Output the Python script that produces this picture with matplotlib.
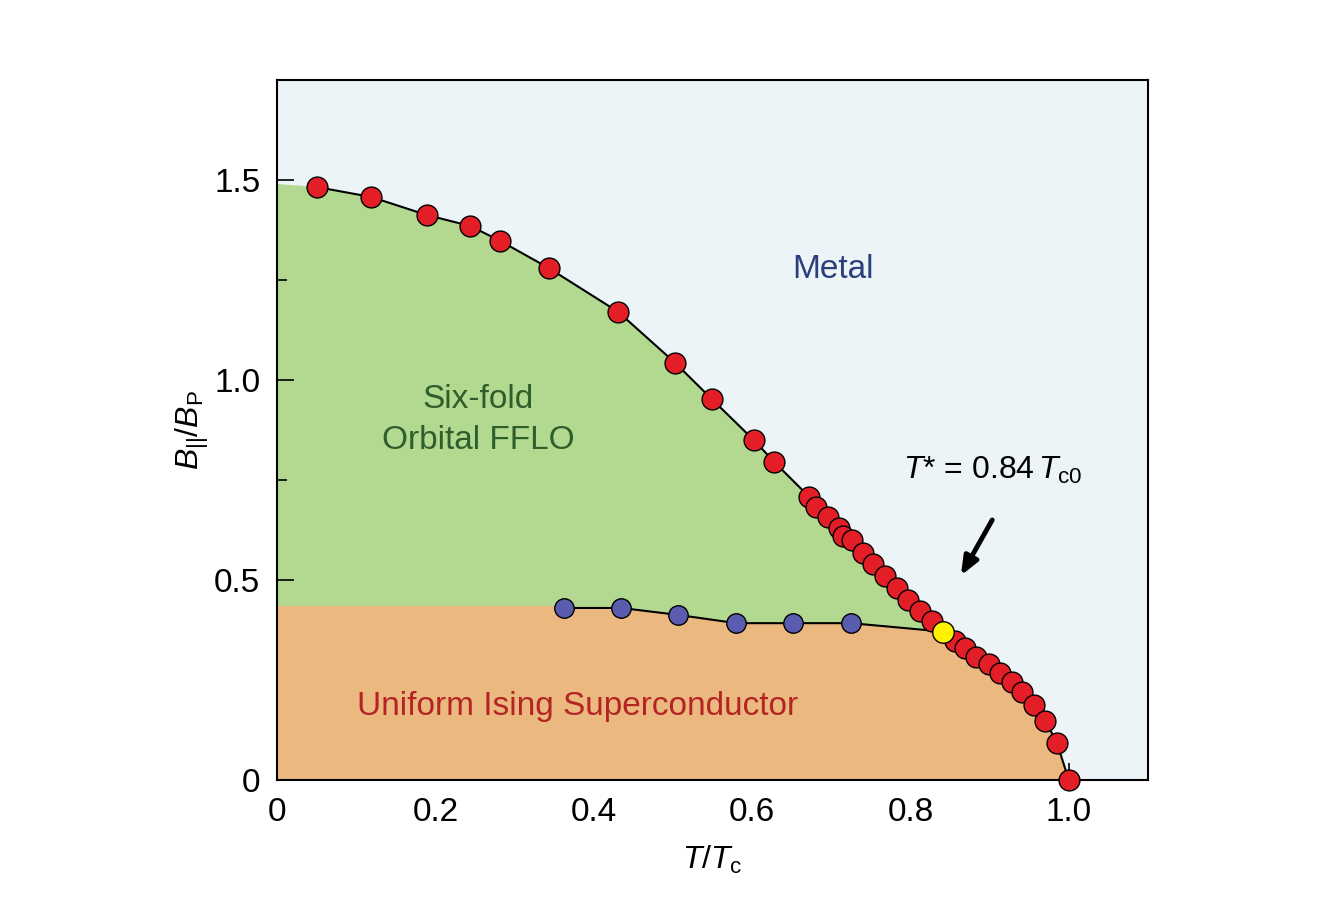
import numpy as np
import matplotlib
matplotlib.use('Agg')
import matplotlib.pyplot as plt
from matplotlib.ticker import MultipleLocator

plt.rcParams['font.family'] = ['Liberation Sans', 'DejaVu Sans']
plt.rcParams['mathtext.fontset'] = 'custom'
plt.rcParams['mathtext.rm'] = 'Liberation Sans'
plt.rcParams['mathtext.it'] = 'Liberation Sans:italic'

# upper critical field (red)
red_x = [0.05, 0.119, 0.189, 0.244, 0.282, 0.343, 0.431, 0.503, 0.549, 0.602, 0.628,
         0.672, 0.681, 0.696, 0.710, 0.715, 0.726, 0.740, 0.753, 0.768, 0.783, 0.797,
         0.812, 0.827, 0.856, 0.8695, 0.883, 0.899, 0.913, 0.928, 0.9415, 0.956,
         0.9705, 0.985, 1.0]
red_y = [1.4825, 1.4575, 1.4125, 1.385, 1.3475, 1.28, 1.17, 1.0425, 0.9525, 0.85, 0.795,
         0.708, 0.683, 0.657, 0.629, 0.61, 0.60, 0.568, 0.54, 0.511, 0.479, 0.45,
         0.423, 0.398, 0.348, 0.329, 0.308, 0.29, 0.267, 0.246, 0.221, 0.1875,
         0.148, 0.093, 0.0]

# FFLO transition (blue)
blue_x = [0.362, 0.435, 0.507, 0.58, 0.652, 0.725]
blue_y = [0.43, 0.43, 0.4125, 0.392, 0.392, 0.392]
blue_err = [0.013, 0.013, 0.013, 0.013, 0.013, 0.013]

# tricritical point
tstar_x, tstar_y = 0.8405, 0.371

c_bg = '#ECF4F7'
c_green = '#B3D88F'
c_orange = '#EBB980'

fig = plt.figure(figsize=(13.23, 9.10), dpi=100)
ax = fig.add_axes([0.2094, 0.1429, 0.6583, 0.7692])
ax.set_facecolor(c_bg)

# green region under the upper curve
gx = [0.0] + red_x + [0.0]
gy = [1.49] + red_y + [0.0]
ax.fill(gx, gy, color=c_green, lw=0, zorder=1)

# orange region under blue line + lower part of red curve
low_x = [rx for rx in red_x if rx > tstar_x]
low_y = [ry for rx, ry in zip(red_x, red_y) if rx > tstar_x]
ox = [0.0, blue_x[0]] + blue_x + [tstar_x] + low_x + [0.0]
oy = [0.435, 0.435] + blue_y + [tstar_y] + low_y + [0.0]
ax.fill(ox, oy, color=c_orange, lw=0, zorder=2)

# lines
up_x = [rx for rx in red_x if rx < tstar_x] + [tstar_x] + low_x
up_y = [ry for rx, ry in zip(red_x, red_y) if rx < tstar_x] + [tstar_y] + low_y
ax.plot(up_x, up_y, color='black', lw=1.5, zorder=3)
ax.plot(blue_x + [tstar_x], blue_y + [tstar_y], color='black', lw=1.5, zorder=3)

ax.plot(red_x, red_y, 'o', ms=15, mfc='#E41E26', mec='black', mew=1.0, zorder=5, clip_on=False)
ax.errorbar(blue_x, blue_y, yerr=blue_err, fmt='o', ms=14, mfc='#5A5CB0', mec='black',
            mew=1.0, ecolor='black', elinewidth=1.2, capsize=4, zorder=5)
ax.plot([tstar_x], [tstar_y], 'o', ms=15.5, mfc='#FFF200', mec='black', mew=1.0, zorder=6)

# labels in the regions
ax.text(0.702, 1.275, 'Metal', color='#2B3F7C', fontsize=24, ha='center', va='center')
ax.text(0.254, 0.9, 'Six-fold\nOrbital FFLO', color='#2E5E2B', fontsize=24,
        ha='center', va='center', linespacing=1.45)
ax.text(0.38, 0.1825, 'Uniform Ising Superconductor', color='#B42424', fontsize=24,
        ha='center', va='center')
ax.text(0.904, 0.775, r'$T$* = 0.84$\,T_{\mathrm{c0}}$', fontsize=23, ha='center', va='center')
ax.annotate('', xy=(0.862, 0.505), xytext=(0.905, 0.656),
            arrowprops=dict(arrowstyle='-|>,head_length=1.1,head_width=0.45', color='black', lw=3.5))

ax.set_xlim(0, 1.1)
ax.set_ylim(0, 1.75)
ax.set_xticks([0, 0.2, 0.4, 0.6, 0.8, 1.0])
ax.set_xticklabels(['0', '0.2', '0.4', '0.6', '0.8', '1.0'])
ax.set_yticks([0, 0.5, 1.0, 1.5])
ax.set_yticklabels(['0', '0.5', '1.0', '1.5'])
ax.xaxis.set_minor_locator(MultipleLocator(0.1))
ax.yaxis.set_minor_locator(MultipleLocator(0.25))
ax.tick_params(which='major', direction='in', length=12, width=1.2, labelsize=24, pad=12)
ax.tick_params(which='minor', direction='in', length=7, width=1.2)
for s in ax.spines.values():
    s.set_linewidth(1.5)

ax.set_xlabel(r'$T/T_{\mathrm{c}}$', fontsize=23, labelpad=12)
ax.set_ylabel(r'$B_{||}/B_{\mathrm{P}}$', fontsize=23, labelpad=2)

fig.savefig('out.png', dpi=100)
